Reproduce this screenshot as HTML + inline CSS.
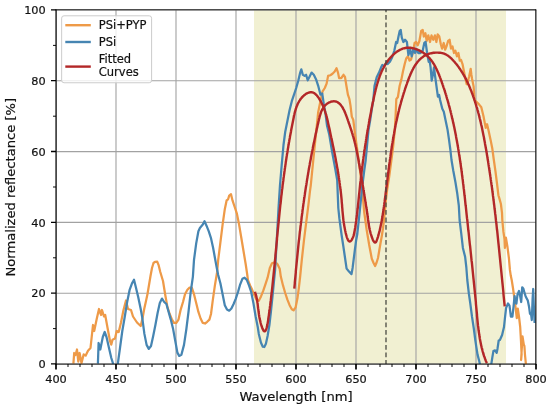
<!DOCTYPE html>
<html lang="en"><head><meta charset="utf-8"><title>Normalized reflectance</title>
<style>html,body{margin:0;padding:0;background:#fff}body{width:550px;height:409px;overflow:hidden}</style>
</head><body>
<svg width="550" height="409" viewBox="0 0 550 409" style="display:block;filter:blur(0.35px)">
<rect width="550" height="409" fill="#fff"/>
<defs><clipPath id="ax"><rect x="56.0" y="10.0" width="480.0" height="354.0"/></clipPath></defs>
<rect x="254.0" y="10.0" width="252.0" height="354.0" fill="#f1f0d2"/>
<path d="M56.0,10.0 V364.0 M116.0,10.0 V364.0 M176.0,10.0 V364.0 M236.0,10.0 V364.0 M296.0,10.0 V364.0 M356.0,10.0 V364.0 M416.0,10.0 V364.0 M476.0,10.0 V364.0 M536.0,10.0 V364.0 M56.0,364.0 H536.0 M56.0,293.2 H536.0 M56.0,222.4 H536.0 M56.0,151.6 H536.0 M56.0,80.8 H536.0 M56.0,10.0 H536.0" stroke="#a2a2a2" stroke-width="1.1" fill="none"/>
<g clip-path="url(#ax)" fill="none" stroke-linejoin="round" stroke-linecap="butt">
<path d="M73.4,363.6 L74.2,353.0 L75.5,355.0 L77.0,349.5 L78.3,361.7 L79.6,353.0 L81.5,363.0 L83.7,354.4 L85.7,355.6 L88.0,350.7 L90.5,348.0 L91.8,336.0 L93.0,325.0 L94.2,331.0 L96.7,319.0 L99.0,309.0 L101.0,315.0 L102.0,310.0 L104.0,316.5 L105.2,315.0 L107.7,328.7 L110.0,341.0 L111.3,344.6 L112.5,339.7 L115.0,338.5 L116.7,331.0 L118.7,332.0 L121.0,322.5 L123.5,310.0 L126.0,300.5 L128.0,309.0 L131.0,310.0 L133.0,316.5 L137.0,322.5 L140.7,326.0 L142.6,318.0 L144.2,309.0 L146.0,301.0 L147.5,294.0 L149.0,285.0 L150.5,276.0 L152.0,268.0 L153.5,263.0 L155.0,261.8 L157.2,261.6 L158.7,265.4 L160.3,272.0 L163.0,281.0 L165.3,295.3 L167.5,307.4 L169.7,314.0 L172.0,319.6 L174.0,322.9 L176.3,322.9 L178.5,319.6 L180.7,309.6 L183.0,302.0 L185.0,294.2 L187.4,289.8 L189.6,287.6 L191.8,287.6 L194.0,294.2 L196.2,303.0 L198.4,311.9 L200.6,318.5 L202.8,322.9 L205.0,323.5 L207.2,321.8 L209.4,319.6 L211.0,314.0 L212.7,300.8 L214.9,285.4 L217.1,272.2 L218.2,259.9 L220.4,242.3 L222.6,224.6 L224.8,209.2 L226.6,200.4 L228.1,199.3 L229.2,195.6 L231.0,194.2 L232.5,200.4 L234.7,207.0 L236.9,213.6 L239.1,224.6 L241.3,237.8 L243.5,251.0 L245.7,264.3 L247.3,275.0 L247.9,279.9 L250.1,285.4 L252.2,289.8 L254.4,295.3 L256.6,299.7 L258.8,300.8 L261.0,296.4 L263.2,290.9 L265.4,284.3 L267.6,277.7 L269.8,268.0 L272.0,263.2 L275.3,262.0 L277.5,264.3 L279.7,268.7 L280.8,276.6 L283.0,285.4 L285.2,293.0 L287.4,299.7 L289.6,305.2 L291.8,309.2 L293.6,310.3 L295.6,307.4 L297.4,298.6 L298.9,287.6 L300.2,276.0 L301.8,259.9 L304.0,240.0 L306.2,222.4 L308.4,204.8 L309.9,191.6 L310.8,185.0 L314.5,148.0 L318.2,112.2 L320.4,101.2 L322.6,91.3 L324.8,88.0 L326.6,83.6 L328.1,75.9 L330.3,75.2 L332.5,73.7 L334.7,71.5 L336.5,68.2 L338.0,72.6 L339.1,78.0 L341.3,78.0 L343.5,74.8 L345.0,77.0 L346.4,85.8 L347.9,94.6 L349.4,99.0 L350.5,105.6 L351.8,116.6 L353.3,120.0 L355.1,134.7 L357.2,149.4 L359.1,164.0 L360.8,175.8 L362.4,192.0 L364.2,212.0 L366.7,230.0 L369.2,245.0 L371.8,258.7 L373.7,263.3 L375.1,266.0 L376.6,262.5 L378.0,258.0 L379.1,251.5 L380.4,243.8 L381.8,236.0 L382.9,229.0 L384.0,220.0 L385.0,210.0 L385.9,200.0 L387.0,190.8 L389.2,176.5 L391.4,160.0 L393.2,146.0 L394.7,131.0 L395.6,116.0 L396.3,99.2 L397.9,97.0 L399.6,86.0 L401.4,79.4 L402.9,71.7 L404.7,64.0 L406.2,58.5 L408.0,56.3 L409.5,60.7 L411.0,59.6 L412.8,53.0 L414.6,43.0 L416.1,42.0 L417.7,45.3 L419.4,41.0 L421.2,31.0 L422.7,29.9 L423.8,36.5 L425.4,33.2 L426.7,41.0 L428.3,35.4 L430.0,42.0 L431.5,35.4 L433.3,39.8 L434.9,35.4 L436.4,42.0 L437.7,34.3 L439.3,36.5 L440.8,44.2 L442.1,48.6 L443.7,43.0 L445.2,49.7 L446.5,46.4 L448.1,41.0 L449.6,39.8 L451.0,48.6 L452.5,46.4 L454.0,53.0 L455.4,50.8 L456.9,56.3 L458.4,53.0 L459.8,60.7 L461.1,60.0 L462.6,64.4 L464.0,71.7 L465.5,79.0 L466.7,84.2 L467.7,82.0 L469.2,76.2 L470.7,68.8 L471.4,74.7 L472.1,79.0 L473.6,86.4 L474.6,100.0 L479.0,104.4 L481.3,107.3 L483.5,116.2 L485.7,127.9 L487.1,124.2 L488.6,130.8 L490.8,141.1 L492.3,148.5 L493.7,159.0 L495.5,171.7 L497.0,183.5 L498.4,195.2 L499.5,198.9 L500.9,204.0 L502.0,212.9 L502.3,220.0 L503.4,231.7 L504.5,239.1 L504.9,247.9 L505.9,237.6 L507.4,246.4 L508.9,258.2 L509.9,269.9 L510.8,275.8 L511.7,280.0 L513.1,288.8 L514.3,297.6 L515.8,309.4 L516.8,318.2 L517.8,308.6 L519.0,316.7 L520.2,327.0 L521.0,341.3 L521.6,354.4 L521.1,360.0 L522.0,345.0 L522.5,336.4 L523.8,344.6 L524.4,346.0 L525.0,355.0 L525.9,364.0" stroke="#ee9a48" stroke-width="2.25"/>
<path d="M97.9,363.6 L98.6,343.0 L100.3,349.5 L102.8,337.0 L104.7,332.0 L106.5,337.0 L109.0,348.0 L111.3,358.0 L113.8,366.0 L117.5,366.0 L120.0,348.0 L122.3,331.0 L124.8,316.5 L127.2,301.8 L129.7,289.6 L132.0,283.4 L134.0,279.8 L135.8,287.0 L138.2,297.0 L140.7,309.0 L142.2,317.4 L144.4,333.9 L146.6,344.9 L148.8,348.9 L151.0,346.0 L153.2,336.0 L155.4,325.0 L157.6,313.0 L159.8,303.0 L162.0,298.6 L164.2,302.0 L166.4,304.0 L168.6,311.9 L170.8,319.6 L173.0,328.4 L175.2,340.5 L177.4,352.6 L179.2,355.9 L181.4,354.8 L184.0,344.9 L186.3,329.5 L188.5,311.9 L190.7,292.0 L192.9,276.6 L194.0,259.9 L196.2,243.4 L198.4,231.2 L199.9,228.0 L202.8,224.6 L204.5,221.3 L206.5,225.7 L208.7,231.2 L210.9,237.8 L213.1,247.8 L214.9,257.7 L216.7,267.6 L218.2,275.0 L220.4,283.2 L222.6,294.2 L224.8,305.2 L227.0,309.6 L229.2,310.7 L231.4,308.5 L233.6,304.0 L235.8,298.6 L238.0,292.0 L240.2,284.3 L242.4,278.8 L244.6,277.7 L246.8,279.9 L249.0,285.4 L251.2,292.0 L253.4,303.0 L255.6,316.3 L257.8,327.3 L258.8,333.9 L261.0,342.7 L262.8,346.7 L264.3,347.0 L265.9,343.8 L267.6,336.0 L269.4,325.0 L270.9,311.9 L272.5,296.4 L274.2,278.8 L275.1,270.0 L278.6,207.0 L280.0,185.0 L281.7,165.0 L283.5,145.0 L285.2,132.0 L287.4,121.0 L289.6,110.0 L291.8,101.2 L294.0,94.6 L296.2,88.0 L298.4,80.3 L300.2,72.6 L301.3,69.3 L302.8,74.8 L304.6,75.9 L306.1,74.8 L307.7,80.3 L309.4,77.0 L311.6,72.6 L313.8,74.8 L316.0,79.2 L318.2,85.8 L320.4,94.6 L322.2,93.5 L323.7,103.4 L325.3,112.2 L327.0,125.4 L329.3,134.7 L332.2,152.3 L335.2,168.5 L337.2,180.0 L338.3,208.0 L339.4,218.7 L341.6,235.0 L343.3,246.0 L344.9,257.0 L346.6,268.6 L349.0,271.5 L351.5,274.1 L352.6,268.0 L353.7,259.2 L354.8,250.4 L356.1,240.5 L357.3,234.0 L359.2,216.5 L360.6,203.0 L362.4,185.0 L364.3,170.0 L365.7,160.0 L367.0,146.0 L368.5,130.0 L370.2,120.0 L371.5,111.0 L373.3,100.0 L374.5,86.0 L376.7,77.2 L378.9,72.8 L381.1,67.3 L382.3,65.0 L384.3,66.2 L386.6,61.8 L387.7,64.0 L389.9,61.8 L392.1,57.4 L394.3,50.8 L396.1,42.0 L397.2,43.0 L398.5,36.5 L399.7,31.0 L400.7,29.9 L401.8,37.6 L403.4,42.0 L405.1,39.8 L406.9,42.0 L408.4,55.2 L410.2,49.7 L411.7,56.3 L413.5,48.6 L415.0,53.0 L416.8,49.7 L418.3,53.0 L420.5,53.0 L422.7,50.8 L424.3,43.0 L425.6,42.0 L427.1,53.0 L428.7,61.8 L429.5,60.0 L430.6,67.3 L431.7,80.6 L432.9,74.7 L434.0,67.3 L434.7,73.2 L435.9,82.0 L436.9,89.4 L437.9,96.7 L439.1,95.0 L440.1,100.0 L442.3,108.8 L443.8,111.7 L445.3,119.0 L447.5,129.4 L449.0,139.6 L450.4,150.0 L451.5,160.0 L453.2,170.3 L455.4,182.0 L457.3,193.8 L458.8,205.5 L459.6,220.0 L461.2,233.2 L462.9,247.9 L465.1,256.7 L466.3,267.0 L467.3,280.0 L468.8,293.2 L470.3,303.5 L472.0,316.7 L473.8,328.5 L475.3,340.0 L476.2,346.2 L477.5,354.4 L479.2,361.0 L480.3,366.0 L485.0,370.0 L491.0,366.0 L492.3,357.7 L493.4,351.1 L495.1,350.3 L496.7,352.8 L497.5,348.7 L498.7,340.5 L499.9,340.0 L502.1,335.0 L504.0,327.0 L505.1,316.7 L506.1,307.9 L508.0,303.5 L509.5,305.7 L510.9,316.7 L512.4,316.7 L513.4,307.9 L514.6,296.2 L515.3,302.0 L516.4,303.5 L517.5,294.7 L519.0,291.0 L520.2,296.2 L521.2,302.0 L522.2,287.3 L523.4,288.8 L524.6,293.2 L525.6,296.2 L526.7,298.4 L527.8,300.6 L529.0,306.4 L530.0,313.8 L531.2,315.0 L531.8,320.0 L532.6,299.0 L533.2,289.0 L533.8,305.0 L534.6,323.0" stroke="#4685b2" stroke-width="2.25"/>
<path d="M255.0,291.7 L255.3,292.8 L255.6,293.8 L255.9,294.8 L256.2,295.8 L256.4,296.8 L256.6,297.7 L256.8,298.7 L257.0,299.7 L257.1,300.6 L257.3,301.6 L257.4,302.5 L257.6,303.5 L257.7,304.4 L257.8,305.4 L257.9,306.3 L258.0,307.3 L258.1,308.2 L258.3,309.2 L258.4,310.2 L258.5,311.2 L258.6,312.1 L258.8,313.1 L258.9,314.2 L259.1,315.2 L259.2,316.2 L259.4,317.3 L259.6,318.4 L259.9,319.5 L260.1,320.6 L260.4,321.7 L260.6,322.8 L260.9,323.9 L261.2,324.9 L261.6,326.0 L261.9,326.9 L262.2,327.8 L262.5,328.7 L262.9,329.4 L263.2,330.0 L263.5,330.6 L263.9,331.0 L264.2,331.2 L264.5,331.4 L264.8,331.3 L265.1,331.2 L265.4,330.9 L265.7,330.4 L265.9,329.9 L266.2,329.2 L266.4,328.5 L266.7,327.6 L266.9,326.7 L267.1,325.7 L267.4,324.6 L267.6,323.5 L267.8,322.4 L268.0,321.2 L268.2,320.0 L268.3,318.8 L268.5,317.5 L268.7,316.3 L268.9,315.1 L269.0,313.9 L269.2,312.8 L269.3,311.6 L269.5,310.5 L269.6,309.5 L269.8,308.4 L269.9,307.4 L270.0,306.4 L270.2,305.4 L270.3,304.4 L270.4,303.4 L270.5,302.4 L270.6,301.5 L270.8,300.5 L270.9,299.6 L271.0,298.6 L271.1,297.6 L271.2,296.7 L271.3,295.7 L271.4,294.8 L271.5,293.8 L271.7,292.8 L271.8,291.9 L271.9,290.9 L272.0,289.9 L272.1,289.0 L272.2,288.0 L272.3,287.0 L272.4,286.1 L272.5,285.1 L272.6,284.1 L272.7,283.1 L272.8,282.2 L272.9,281.2 L273.0,280.2 L273.1,279.2 L273.2,278.2 L273.3,277.3 L273.4,276.3 L273.5,275.3 L273.6,274.3 L273.7,273.3 L273.8,272.3 L273.9,271.4 L274.0,270.4 L274.1,269.4 L274.2,268.4 L274.3,267.4 L274.4,266.4 L274.5,265.4 L274.6,264.4 L274.7,263.4 L274.8,262.4 L274.9,261.4 L275.0,260.4 L275.1,259.4 L275.2,258.4 L275.3,257.5 L275.4,256.5 L275.4,255.5 L275.5,254.5 L275.6,253.5 L275.7,252.5 L275.8,251.5 L275.9,250.5 L276.0,249.5 L276.1,248.5 L276.2,247.5 L276.3,246.5 L276.4,245.4 L276.5,244.4 L276.6,243.4 L276.7,242.4 L276.8,241.4 L276.9,240.4 L277.0,239.4 L277.0,238.4 L277.1,237.4 L277.2,236.4 L277.3,235.4 L277.4,234.4 L277.5,233.4 L277.6,232.4 L277.7,231.4 L277.8,230.4 L277.9,229.4 L278.0,228.4 L278.1,227.4 L278.2,226.4 L278.3,225.4 L278.4,224.4 L278.5,223.4 L278.6,222.4 L278.7,221.4 L278.8,220.4 L278.9,219.4 L279.0,218.4 L279.1,217.4 L279.2,216.4 L279.3,215.4 L279.4,214.4 L279.5,213.4 L279.6,212.4 L279.7,211.4 L279.8,210.4 L279.9,209.4 L280.0,208.4 L280.1,207.4 L280.2,206.4 L280.3,205.4 L280.4,204.4 L280.6,203.4 L280.7,202.4 L280.8,201.4 L280.9,200.4 L281.0,199.4 L281.1,198.4 L281.2,197.4 L281.3,196.4 L281.4,195.4 L281.6,194.5 L281.7,193.5 L281.8,192.5 L281.9,191.5 L282.0,190.5 L282.1,189.5 L282.3,188.5 L282.4,187.6 L282.5,186.6 L282.6,185.6 L282.7,184.6 L282.9,183.6 L283.0,182.6 L283.1,181.7 L283.3,180.7 L283.4,179.7 L283.5,178.7 L283.6,177.7 L283.8,176.7 L283.9,175.8 L284.0,174.8 L284.2,173.8 L284.3,172.8 L284.4,171.8 L284.6,170.9 L284.7,169.9 L284.8,168.9 L285.0,167.9 L285.1,166.9 L285.3,166.0 L285.4,165.0 L285.6,164.0 L285.7,163.0 L285.8,162.0 L286.0,161.1 L286.1,160.1 L286.3,159.1 L286.4,158.1 L286.6,157.1 L286.7,156.1 L286.9,155.2 L287.0,154.2 L287.2,153.2 L287.4,152.2 L287.5,151.2 L287.7,150.2 L287.8,149.3 L288.0,148.3 L288.2,147.3 L288.3,146.3 L288.5,145.3 L288.7,144.3 L288.8,143.3 L289.0,142.3 L289.2,141.4 L289.3,140.4 L289.5,139.4 L289.7,138.4 L289.9,137.4 L290.0,136.4 L290.2,135.4 L290.4,134.4 L290.6,133.4 L290.8,132.4 L291.0,131.4 L291.1,130.4 L291.3,129.4 L291.5,128.4 L291.7,127.4 L291.9,126.4 L292.1,125.4 L292.3,124.4 L292.5,123.4 L292.7,122.4 L292.9,121.4 L293.1,120.4 L293.3,119.4 L293.5,118.4 L293.7,117.4 L293.9,116.3 L294.1,115.3 L294.4,114.3 L294.6,113.3 L294.8,112.4 L295.1,111.4 L295.4,110.4 L295.7,109.4 L296.0,108.5 L296.3,107.5 L296.6,106.6 L297.0,105.7 L297.4,104.7 L297.8,103.8 L298.2,103.0 L298.7,102.1 L299.1,101.3 L299.7,100.4 L300.2,99.6 L300.8,98.9 L301.4,98.1 L302.0,97.4 L302.7,96.6 L303.4,96.0 L304.1,95.3 L304.9,94.7 L305.7,94.1 L306.5,93.6 L307.4,93.2 L308.2,92.8 L309.0,92.5 L309.9,92.3 L310.7,92.2 L311.6,92.3 L312.4,92.4 L313.2,92.7 L314.0,93.0 L314.7,93.5 L315.5,94.1 L316.2,94.8 L316.9,95.5 L317.6,96.4 L318.2,97.2 L318.8,98.1 L319.4,99.1 L320.0,100.1 L320.6,101.0 L321.1,102.0 L321.6,103.0 L322.1,104.0 L322.5,104.9 L323.0,105.9 L323.4,106.9 L323.8,107.8 L324.1,108.8 L324.5,109.7 L324.8,110.7 L325.1,111.6 L325.4,112.6 L325.7,113.5 L326.0,114.5 L326.3,115.4 L326.5,116.4 L326.8,117.3 L327.0,118.2 L327.2,119.2 L327.5,120.1 L327.7,121.1 L327.9,122.0 L328.1,122.9 L328.3,123.9 L328.5,124.8 L328.7,125.8 L328.9,126.7 L329.2,127.7 L329.4,128.6 L329.6,129.6 L329.8,130.6 L330.0,131.5 L330.2,132.5 L330.4,133.5 L330.6,134.4 L330.8,135.4 L331.0,136.4 L331.2,137.3 L331.5,138.3 L331.7,139.3 L331.9,140.3 L332.1,141.2 L332.3,142.2 L332.5,143.2 L332.7,144.2 L332.9,145.2 L333.1,146.2 L333.3,147.1 L333.5,148.1 L333.7,149.1 L333.9,150.1 L334.1,151.1 L334.3,152.1 L334.5,153.1 L334.7,154.1 L334.9,155.1 L335.1,156.0 L335.3,157.0 L335.5,158.0 L335.7,159.0 L335.8,160.0 L336.0,161.0 L336.2,162.0 L336.4,163.0 L336.6,164.0 L336.8,165.0 L336.9,166.0 L337.1,167.0 L337.3,168.0 L337.5,169.0 L337.6,170.0 L337.8,171.0 L338.0,172.0 L338.1,173.0 L338.3,174.0 L338.4,175.0 L338.6,176.0 L338.8,177.0 L338.9,177.9 L339.1,178.9 L339.2,179.9 L339.4,180.9 L339.5,181.9 L339.6,182.9 L339.8,183.9 L339.9,184.9 L340.0,185.9 L340.2,186.9 L340.3,187.8 L340.4,188.8 L340.5,189.8 L340.7,190.8 L340.8,191.8 L340.9,192.8 L341.0,193.7 L341.1,194.7 L341.2,195.7 L341.3,196.7 L341.4,197.6 L341.5,198.6 L341.6,199.6 L341.7,200.6 L341.7,201.5 L341.8,202.5 L341.9,203.5 L342.0,204.4 L342.1,205.4 L342.1,206.3 L342.2,207.3 L342.3,208.3 L342.4,209.3 L342.4,210.2 L342.5,211.2 L342.6,212.2 L342.7,213.2 L342.8,214.1 L342.9,215.1 L343.0,216.1 L343.1,217.1 L343.2,218.1 L343.3,219.1 L343.4,220.2 L343.6,221.2 L343.7,222.2 L343.9,223.2 L344.0,224.3 L344.2,225.4 L344.4,226.4 L344.6,227.5 L344.8,228.6 L345.0,229.7 L345.2,230.8 L345.5,231.9 L345.7,233.0 L346.0,234.1 L346.3,235.2 L346.6,236.3 L346.9,237.3 L347.2,238.2 L347.6,239.1 L347.9,239.8 L348.3,240.5 L348.7,241.0 L349.1,241.3 L349.5,241.5 L349.9,241.5 L350.4,241.3 L350.8,241.0 L351.3,240.5 L351.7,239.9 L352.1,239.2 L352.5,238.3 L352.9,237.5 L353.3,236.5 L353.6,235.6 L353.9,234.6 L354.1,233.5 L354.3,232.5 L354.5,231.4 L354.7,230.4 L354.9,229.3 L355.1,228.2 L355.3,227.2 L355.4,226.1 L355.6,225.1 L355.7,224.0 L355.9,223.0 L356.0,221.9 L356.2,220.9 L356.3,219.8 L356.5,218.8 L356.6,217.8 L356.7,216.8 L356.8,215.7 L357.0,214.7 L357.1,213.7 L357.2,212.7 L357.3,211.7 L357.4,210.7 L357.5,209.6 L357.7,208.6 L357.8,207.6 L357.9,206.6 L358.0,205.6 L358.1,204.6 L358.2,203.6 L358.3,202.7 L358.4,201.7 L358.5,200.7 L358.6,199.7 L358.7,198.7 L358.8,197.7 L358.9,196.7 L359.0,195.7 L359.1,194.7 L359.2,193.7 L359.3,192.8 L359.4,191.8 L359.5,190.8 L359.6,189.8 L359.7,188.8 L359.8,187.8 L359.9,186.9 L360.0,185.9 L360.1,184.9 L360.2,183.9 L360.3,182.9 L360.4,181.9 L360.6,180.9 L360.7,180.0 L360.8,179.0 L360.9,178.0 L361.0,177.0 L361.1,176.0 L361.2,175.1 L361.4,174.1 L361.5,173.1 L361.6,172.1 L361.7,171.1 L361.8,170.1 L362.0,169.2 L362.1,168.2 L362.2,167.2 L362.3,166.2 L362.5,165.2 L362.6,164.3 L362.7,163.3 L362.8,162.3 L363.0,161.3 L363.1,160.3 L363.2,159.3 L363.4,158.4 L363.5,157.4 L363.6,156.4 L363.8,155.4 L363.9,154.4 L364.1,153.5 L364.2,152.5 L364.3,151.5 L364.5,150.5 L364.6,149.5 L364.8,148.5 L364.9,147.6 L365.1,146.6 L365.2,145.6 L365.4,144.6 L365.5,143.6 L365.7,142.7 L365.8,141.7 L366.0,140.7 L366.1,139.7 L366.3,138.7 L366.4,137.7 L366.6,136.8 L366.7,135.8 L366.9,134.8 L367.1,133.8 L367.2,132.8 L367.4,131.8 L367.6,130.8 L367.7,129.9 L367.9,128.9 L368.1,127.9 L368.2,126.9 L368.4,125.9 L368.6,124.9 L368.8,123.9 L368.9,122.9 L369.1,122.0 L369.3,121.0 L369.5,120.0 L369.6,119.0 L369.8,118.0 L370.0,117.0 L370.2,116.0 L370.4,115.0 L370.6,114.0 L370.8,113.0 L371.0,112.1 L371.1,111.1 L371.3,110.1 L371.5,109.1 L371.7,108.1 L371.9,107.1 L372.1,106.1 L372.3,105.1 L372.5,104.1 L372.7,103.1 L372.9,102.1 L373.2,101.1 L373.4,100.1 L373.6,99.1 L373.8,98.1 L374.0,97.1 L374.2,96.1 L374.4,95.1 L374.7,94.1 L374.9,93.1 L375.1,92.1 L375.4,91.1 L375.6,90.1 L375.8,89.1 L376.1,88.1 L376.3,87.2 L376.6,86.2 L376.9,85.2 L377.1,84.2 L377.4,83.3 L377.7,82.3 L378.0,81.3 L378.3,80.4 L378.6,79.4 L378.9,78.5 L379.3,77.5 L379.6,76.6 L379.9,75.7 L380.3,74.7 L380.7,73.8 L381.1,72.9 L381.4,72.0 L381.8,71.1 L382.3,70.2 L382.7,69.3 L383.1,68.5 L383.6,67.6 L384.0,66.8 L384.5,65.9 L385.0,65.1 L385.5,64.2 L386.0,63.4 L386.5,62.6 L387.1,61.8 L387.7,61.1 L388.2,60.3 L388.8,59.5 L389.4,58.8 L390.1,58.0 L390.7,57.3 L391.4,56.6 L392.1,55.9 L392.8,55.2 L393.5,54.5 L394.2,53.9 L395.0,53.2 L395.7,52.6 L396.5,52.0 L397.3,51.4 L398.2,50.9 L399.0,50.4 L399.9,49.9 L400.8,49.5 L401.7,49.1 L402.6,48.7 L403.5,48.4 L404.5,48.2 L405.4,48.0 L406.4,47.8 L407.4,47.7 L408.4,47.7 L409.5,47.8 L410.5,47.8 L411.5,48.0 L412.6,48.2 L413.6,48.4 L414.6,48.7 L415.6,49.0 L416.7,49.3 L417.6,49.7 L418.6,50.1 L419.6,50.6 L420.5,51.1 L421.4,51.6 L422.3,52.1 L423.1,52.6 L423.9,53.2 L424.7,53.8 L425.5,54.4 L426.3,55.0 L427.0,55.6 L427.7,56.3 L428.4,57.0 L429.0,57.7 L429.7,58.4 L430.3,59.1 L430.9,59.9 L431.5,60.6 L432.1,61.4 L432.6,62.2 L433.1,63.0 L433.7,63.8 L434.2,64.7 L434.7,65.5 L435.1,66.4 L435.6,67.2 L436.0,68.1 L436.5,69.0 L436.9,69.9 L437.3,70.8 L437.7,71.7 L438.1,72.6 L438.5,73.5 L438.9,74.4 L439.2,75.3 L439.6,76.3 L440.0,77.2 L440.3,78.1 L440.7,79.1 L441.0,80.0 L441.4,81.0 L441.7,81.9 L442.0,82.9 L442.4,83.8 L442.7,84.8 L443.0,85.7 L443.3,86.7 L443.6,87.6 L444.0,88.6 L444.3,89.5 L444.6,90.5 L444.9,91.4 L445.2,92.4 L445.5,93.3 L445.8,94.3 L446.1,95.2 L446.4,96.2 L446.6,97.1 L446.9,98.1 L447.2,99.1 L447.5,100.0 L447.8,101.0 L448.0,101.9 L448.3,102.9 L448.6,103.9 L448.8,104.8 L449.1,105.8 L449.3,106.7 L449.6,107.7 L449.9,108.7 L450.1,109.6 L450.4,110.6 L450.6,111.6 L450.8,112.5 L451.1,113.5 L451.3,114.5 L451.6,115.5 L451.8,116.4 L452.0,117.4 L452.2,118.4 L452.5,119.3 L452.7,120.3 L452.9,121.3 L453.1,122.3 L453.3,123.2 L453.6,124.2 L453.8,125.2 L454.0,126.2 L454.2,127.1 L454.4,128.1 L454.6,129.1 L454.8,130.1 L455.0,131.0 L455.2,132.0 L455.4,133.0 L455.6,134.0 L455.8,135.0 L456.0,135.9 L456.1,136.9 L456.3,137.9 L456.5,138.9 L456.7,139.9 L456.9,140.9 L457.0,141.8 L457.2,142.8 L457.4,143.8 L457.6,144.8 L457.7,145.8 L457.9,146.8 L458.1,147.7 L458.2,148.7 L458.4,149.7 L458.6,150.7 L458.7,151.7 L458.9,152.7 L459.0,153.7 L459.2,154.7 L459.3,155.6 L459.5,156.6 L459.7,157.6 L459.8,158.6 L459.9,159.6 L460.1,160.6 L460.2,161.6 L460.4,162.6 L460.5,163.6 L460.7,164.5 L460.8,165.5 L460.9,166.5 L461.1,167.5 L461.2,168.5 L461.4,169.5 L461.5,170.5 L461.6,171.5 L461.8,172.5 L461.9,173.5 L462.0,174.5 L462.1,175.5 L462.3,176.5 L462.4,177.4 L462.5,178.4 L462.7,179.4 L462.8,180.4 L462.9,181.4 L463.0,182.4 L463.1,183.4 L463.3,184.4 L463.4,185.4 L463.5,186.4 L463.6,187.4 L463.7,188.4 L463.9,189.4 L464.0,190.4 L464.1,191.4 L464.2,192.4 L464.3,193.4 L464.4,194.4 L464.5,195.3 L464.7,196.3 L464.8,197.3 L464.9,198.3 L465.0,199.3 L465.1,200.3 L465.2,201.3 L465.3,202.3 L465.4,203.3 L465.5,204.3 L465.6,205.3 L465.8,206.3 L465.9,207.3 L466.0,208.3 L466.1,209.3 L466.2,210.3 L466.3,211.3 L466.4,212.3 L466.5,213.3 L466.6,214.3 L466.7,215.2 L466.8,216.2 L466.9,217.2 L467.0,218.2 L467.2,219.2 L467.3,220.2 L467.4,221.2 L467.5,222.2 L467.6,223.2 L467.7,224.2 L467.8,225.2 L467.9,226.2 L468.0,227.2 L468.1,228.2 L468.2,229.2 L468.3,230.1 L468.4,231.1 L468.6,232.1 L468.7,233.1 L468.8,234.1 L468.9,235.1 L469.0,236.1 L469.1,237.1 L469.2,238.1 L469.3,239.1 L469.4,240.1 L469.5,241.1 L469.6,242.0 L469.7,243.0 L469.8,244.0 L469.9,245.0 L470.1,246.0 L470.2,247.0 L470.3,248.0 L470.4,249.0 L470.5,250.0 L470.6,251.0 L470.7,252.0 L470.8,253.0 L470.9,253.9 L471.0,254.9 L471.1,255.9 L471.2,256.9 L471.3,257.9 L471.4,258.9 L471.5,259.9 L471.6,260.9 L471.8,261.9 L471.9,262.9 L472.0,263.9 L472.1,264.9 L472.2,265.8 L472.3,266.8 L472.4,267.8 L472.5,268.8 L472.6,269.8 L472.7,270.8 L472.8,271.8 L472.9,272.8 L473.0,273.8 L473.1,274.8 L473.2,275.8 L473.3,276.8 L473.4,277.8 L473.5,278.8 L473.6,279.7 L473.7,280.7 L473.8,281.7 L473.9,282.7 L474.0,283.7 L474.1,284.7 L474.2,285.7 L474.3,286.7 L474.4,287.7 L474.5,288.7 L474.6,289.7 L474.7,290.7 L474.8,291.7 L474.9,292.7 L475.0,293.7 L475.1,294.7 L475.2,295.7 L475.3,296.7 L475.4,297.7 L475.5,298.7 L475.6,299.7 L475.7,300.7 L475.8,301.7 L475.9,302.7 L475.9,303.7 L476.0,304.7 L476.1,305.7 L476.2,306.7 L476.3,307.7 L476.4,308.7 L476.5,309.7 L476.6,310.7 L476.7,311.7 L476.8,312.7 L476.9,313.7 L477.0,314.7 L477.0,315.7 L477.1,316.7 L477.2,317.7 L477.3,318.7 L477.4,319.7 L477.5,320.7 L477.6,321.7 L477.7,322.7 L477.8,323.7 L477.9,324.7 L478.0,325.7 L478.2,326.7 L478.3,327.7 L478.4,328.7 L478.5,329.7 L478.6,330.6 L478.8,331.6 L478.9,332.6 L479.1,333.6 L479.2,334.6 L479.4,335.6 L479.5,336.6 L479.7,337.6 L479.8,338.5 L480.0,339.5 L480.2,340.5 L480.4,341.5 L480.6,342.5 L480.8,343.4 L481.0,344.4 L481.2,345.4 L481.4,346.3 L481.6,347.3 L481.9,348.3 L482.1,349.2 L482.4,350.2 L482.6,351.1 L482.9,352.1 L483.2,353.0 L483.4,354.0 L483.7,354.9 L484.0,355.9 L484.4,356.8 L484.7,357.7 L485.0,358.7 L485.4,359.6 L485.7,360.5 L486.1,361.4 L486.5,362.4 L486.9,363.3" stroke="#b32728" stroke-width="2.4"/>
<path d="M294.3,288.6 L294.4,287.6 L294.5,286.6 L294.6,285.6 L294.7,284.6 L294.8,283.5 L294.8,282.5 L294.9,281.5 L295.0,280.5 L295.1,279.5 L295.2,278.5 L295.3,277.5 L295.4,276.5 L295.5,275.4 L295.6,274.4 L295.7,273.4 L295.8,272.4 L295.8,271.4 L295.9,270.4 L296.0,269.4 L296.1,268.4 L296.2,267.4 L296.3,266.4 L296.4,265.4 L296.5,264.4 L296.6,263.4 L296.7,262.4 L296.8,261.4 L296.9,260.4 L297.0,259.4 L297.1,258.4 L297.2,257.4 L297.3,256.4 L297.4,255.4 L297.5,254.4 L297.6,253.4 L297.7,252.4 L297.8,251.4 L297.9,250.4 L298.0,249.4 L298.1,248.4 L298.2,247.4 L298.3,246.4 L298.4,245.4 L298.5,244.4 L298.6,243.4 L298.7,242.5 L298.8,241.5 L298.9,240.5 L299.1,239.5 L299.2,238.5 L299.3,237.5 L299.4,236.5 L299.5,235.5 L299.6,234.5 L299.7,233.6 L299.8,232.6 L299.9,231.6 L300.1,230.6 L300.2,229.6 L300.3,228.6 L300.4,227.6 L300.5,226.6 L300.6,225.7 L300.8,224.7 L300.9,223.7 L301.0,222.7 L301.1,221.7 L301.3,220.7 L301.4,219.8 L301.5,218.8 L301.6,217.8 L301.7,216.8 L301.9,215.8 L302.0,214.8 L302.1,213.9 L302.3,212.9 L302.4,211.9 L302.5,210.9 L302.6,209.9 L302.8,208.9 L302.9,208.0 L303.0,207.0 L303.2,206.0 L303.3,205.0 L303.4,204.0 L303.6,203.0 L303.7,202.1 L303.9,201.1 L304.0,200.1 L304.1,199.1 L304.3,198.1 L304.4,197.2 L304.6,196.2 L304.7,195.2 L304.9,194.2 L305.0,193.2 L305.1,192.2 L305.3,191.3 L305.4,190.3 L305.6,189.3 L305.7,188.3 L305.9,187.3 L306.0,186.4 L306.2,185.4 L306.4,184.4 L306.5,183.4 L306.7,182.4 L306.8,181.4 L307.0,180.5 L307.1,179.5 L307.3,178.5 L307.5,177.5 L307.6,176.5 L307.8,175.5 L308.0,174.6 L308.1,173.6 L308.3,172.6 L308.5,171.6 L308.6,170.6 L308.8,169.6 L309.0,168.6 L309.1,167.7 L309.3,166.7 L309.5,165.7 L309.7,164.7 L309.8,163.7 L310.0,162.7 L310.2,161.7 L310.4,160.8 L310.6,159.8 L310.8,158.8 L310.9,157.8 L311.1,156.8 L311.3,155.8 L311.5,154.8 L311.7,153.8 L311.9,152.8 L312.1,151.8 L312.3,150.9 L312.5,149.9 L312.7,148.9 L312.8,147.9 L313.0,146.9 L313.2,145.9 L313.4,144.9 L313.6,143.9 L313.9,142.9 L314.1,141.9 L314.3,140.9 L314.5,139.9 L314.7,138.9 L314.9,137.9 L315.1,136.9 L315.3,135.9 L315.5,134.9 L315.7,133.9 L316.0,132.9 L316.2,131.9 L316.4,130.9 L316.6,129.9 L316.8,128.9 L317.1,127.9 L317.3,126.9 L317.5,125.9 L317.7,124.9 L318.0,123.9 L318.2,122.9 L318.4,121.9 L318.7,120.8 L318.9,119.8 L319.1,118.8 L319.4,117.8 L319.6,116.8 L319.9,115.8 L320.2,114.9 L320.5,113.9 L320.8,113.0 L321.1,112.0 L321.5,111.1 L321.9,110.2 L322.3,109.4 L322.8,108.6 L323.3,107.8 L323.8,107.0 L324.3,106.3 L324.9,105.6 L325.6,104.9 L326.3,104.3 L327.0,103.7 L327.8,103.2 L328.6,102.7 L329.5,102.3 L330.3,102.0 L331.2,101.7 L332.1,101.5 L333.0,101.4 L333.9,101.3 L334.8,101.4 L335.6,101.5 L336.4,101.7 L337.2,102.0 L337.9,102.4 L338.6,102.9 L339.3,103.5 L340.0,104.1 L340.6,104.8 L341.2,105.6 L341.8,106.4 L342.4,107.2 L342.9,108.1 L343.4,109.1 L343.9,110.0 L344.4,111.0 L344.8,112.1 L345.3,113.1 L345.7,114.2 L346.1,115.2 L346.5,116.3 L346.9,117.4 L347.3,118.5 L347.7,119.5 L348.0,120.6 L348.4,121.6 L348.7,122.6 L349.0,123.6 L349.4,124.5 L349.7,125.5 L350.0,126.4 L350.3,127.3 L350.6,128.2 L350.9,129.1 L351.2,130.0 L351.5,130.9 L351.8,131.8 L352.0,132.6 L352.3,133.5 L352.6,134.4 L352.8,135.3 L353.1,136.2 L353.4,137.1 L353.6,138.0 L353.9,138.9 L354.1,139.8 L354.3,140.7 L354.6,141.7 L354.8,142.6 L355.1,143.6 L355.3,144.5 L355.5,145.5 L355.7,146.5 L356.0,147.5 L356.2,148.5 L356.4,149.5 L356.6,150.5 L356.8,151.5 L357.0,152.5 L357.2,153.5 L357.4,154.5 L357.6,155.5 L357.8,156.5 L358.0,157.5 L358.2,158.6 L358.4,159.6 L358.6,160.6 L358.8,161.6 L358.9,162.7 L359.1,163.7 L359.3,164.7 L359.5,165.7 L359.7,166.7 L359.8,167.7 L360.0,168.7 L360.2,169.7 L360.4,170.7 L360.5,171.7 L360.7,172.7 L360.9,173.7 L361.0,174.7 L361.2,175.7 L361.4,176.7 L361.5,177.6 L361.7,178.6 L361.8,179.6 L362.0,180.5 L362.2,181.5 L362.3,182.5 L362.5,183.4 L362.6,184.4 L362.8,185.3 L362.9,186.3 L363.1,187.3 L363.3,188.2 L363.4,189.2 L363.6,190.2 L363.7,191.1 L363.9,192.1 L364.0,193.1 L364.2,194.0 L364.3,195.0 L364.5,196.0 L364.7,197.0 L364.8,198.0 L365.0,199.0 L365.1,200.0 L365.3,201.0 L365.5,202.0 L365.6,203.0 L365.8,204.0 L365.9,205.0 L366.1,206.1 L366.3,207.1 L366.4,208.1 L366.6,209.1 L366.7,210.1 L366.9,211.1 L367.0,212.1 L367.2,213.1 L367.3,214.1 L367.5,215.1 L367.6,216.1 L367.7,217.1 L367.9,218.0 L368.0,219.0 L368.1,219.9 L368.3,220.9 L368.4,221.8 L368.5,222.7 L368.6,223.6 L368.8,224.5 L368.9,225.5 L369.1,226.4 L369.3,227.4 L369.4,228.3 L369.6,229.3 L369.9,230.4 L370.1,231.4 L370.4,232.5 L370.7,233.6 L371.1,234.8 L371.5,236.0 L371.9,237.3 L372.4,238.6 L372.8,239.7 L373.3,240.8 L373.9,241.6 L374.4,242.2 L374.9,242.5 L375.4,242.5 L375.8,242.3 L376.2,241.7 L376.5,241.0 L376.8,240.2 L377.1,239.3 L377.4,238.5 L377.7,237.6 L378.0,236.8 L378.2,235.9 L378.5,235.0 L378.7,234.1 L379.0,233.2 L379.2,232.3 L379.5,231.4 L379.7,230.5 L379.9,229.6 L380.1,228.6 L380.3,227.7 L380.5,226.7 L380.7,225.8 L380.9,224.8 L381.1,223.9 L381.3,222.9 L381.5,221.9 L381.7,221.0 L381.9,220.0 L382.0,219.0 L382.2,218.0 L382.4,217.0 L382.5,216.0 L382.7,215.0 L382.9,214.0 L383.0,213.0 L383.2,212.0 L383.3,211.0 L383.5,210.0 L383.6,209.0 L383.7,208.0 L383.9,206.9 L384.0,205.9 L384.2,204.9 L384.3,203.9 L384.4,202.9 L384.6,201.9 L384.7,200.9 L384.8,199.9 L385.0,198.8 L385.1,197.8 L385.2,196.8 L385.4,195.8 L385.5,194.8 L385.6,193.8 L385.7,192.8 L385.9,191.8 L386.0,190.8 L386.1,189.8 L386.2,188.8 L386.4,187.8 L386.5,186.8 L386.6,185.8 L386.8,184.8 L386.9,183.8 L387.0,182.8 L387.1,181.8 L387.3,180.8 L387.4,179.8 L387.5,178.8 L387.6,177.8 L387.7,176.8 L387.9,175.8 L388.0,174.8 L388.1,173.8 L388.3,172.8 L388.4,171.8 L388.5,170.8 L388.6,169.8 L388.8,168.8 L388.9,167.8 L389.0,166.8 L389.1,165.8 L389.3,164.8 L389.4,163.9 L389.5,162.9 L389.7,161.9 L389.8,160.9 L389.9,159.9 L390.1,158.9 L390.2,157.9 L390.4,156.9 L390.5,155.9 L390.6,155.0 L390.8,154.0 L390.9,153.0 L391.1,152.0 L391.2,151.0 L391.3,150.0 L391.5,149.1 L391.6,148.1 L391.8,147.1 L391.9,146.1 L392.1,145.1 L392.2,144.2 L392.4,143.2 L392.6,142.2 L392.7,141.2 L392.9,140.2 L393.0,139.3 L393.2,138.3 L393.4,137.3 L393.5,136.3 L393.7,135.4 L393.9,134.4 L394.1,133.4 L394.2,132.4 L394.4,131.4 L394.6,130.5 L394.8,129.5 L395.0,128.5 L395.2,127.6 L395.4,126.6 L395.5,125.6 L395.7,124.6 L395.9,123.7 L396.1,122.7 L396.3,121.7 L396.6,120.8 L396.8,119.8 L397.0,118.8 L397.2,117.8 L397.4,116.9 L397.6,115.9 L397.8,114.9 L398.1,114.0 L398.3,113.0 L398.5,112.0 L398.8,111.1 L399.0,110.1 L399.2,109.1 L399.5,108.2 L399.7,107.2 L400.0,106.2 L400.2,105.3 L400.5,104.3 L400.8,103.3 L401.0,102.4 L401.3,101.4 L401.6,100.4 L401.8,99.5 L402.1,98.5 L402.4,97.6 L402.7,96.6 L403.0,95.6 L403.3,94.7 L403.6,93.7 L403.9,92.7 L404.2,91.8 L404.5,90.8 L404.8,89.9 L405.1,88.9 L405.4,87.9 L405.8,87.0 L406.1,86.0 L406.4,85.1 L406.8,84.1 L407.1,83.1 L407.4,82.2 L407.8,81.2 L408.2,80.3 L408.5,79.3 L408.9,78.3 L409.2,77.4 L409.6,76.4 L410.0,75.5 L410.4,74.5 L410.8,73.6 L411.2,72.7 L411.6,71.8 L412.1,70.8 L412.5,69.9 L413.0,69.1 L413.4,68.2 L413.9,67.3 L414.4,66.5 L414.9,65.6 L415.5,64.8 L416.0,64.0 L416.6,63.2 L417.1,62.5 L417.7,61.7 L418.4,61.0 L419.0,60.3 L419.6,59.6 L420.3,59.0 L421.0,58.3 L421.7,57.7 L422.5,57.2 L423.3,56.6 L424.1,56.1 L424.9,55.6 L425.7,55.2 L426.6,54.7 L427.5,54.4 L428.4,54.0 L429.4,53.7 L430.4,53.4 L431.4,53.2 L432.5,53.0 L433.5,52.8 L434.6,52.7 L435.7,52.6 L436.8,52.6 L437.9,52.6 L439.0,52.7 L440.1,52.8 L441.1,52.9 L442.1,53.1 L443.2,53.4 L444.1,53.7 L445.1,54.1 L446.0,54.5 L446.8,55.0 L447.7,55.5 L448.5,56.1 L449.3,56.7 L450.0,57.3 L450.7,57.9 L451.5,58.6 L452.1,59.3 L452.8,60.0 L453.5,60.8 L454.2,61.5 L454.8,62.2 L455.4,63.0 L456.1,63.8 L456.7,64.5 L457.3,65.3 L457.9,66.1 L458.5,66.9 L459.0,67.7 L459.6,68.5 L460.2,69.3 L460.7,70.1 L461.3,71.0 L461.8,71.8 L462.3,72.6 L462.8,73.5 L463.3,74.4 L463.8,75.2 L464.3,76.1 L464.8,77.0 L465.3,77.8 L465.7,78.7 L466.2,79.6 L466.6,80.5 L467.1,81.4 L467.5,82.3 L467.9,83.2 L468.3,84.1 L468.8,85.1 L469.2,86.0 L469.6,86.9 L469.9,87.8 L470.3,88.8 L470.7,89.7 L471.1,90.6 L471.5,91.6 L471.8,92.5 L472.2,93.4 L472.5,94.4 L472.9,95.3 L473.2,96.3 L473.5,97.2 L473.9,98.2 L474.2,99.1 L474.5,100.1 L474.8,101.0 L475.1,102.0 L475.4,102.9 L475.7,103.9 L476.0,104.8 L476.3,105.8 L476.6,106.8 L476.9,107.7 L477.2,108.7 L477.4,109.6 L477.7,110.6 L478.0,111.6 L478.2,112.5 L478.5,113.5 L478.8,114.5 L479.0,115.4 L479.3,116.4 L479.5,117.4 L479.7,118.3 L480.0,119.3 L480.2,120.3 L480.4,121.2 L480.7,122.2 L480.9,123.2 L481.1,124.2 L481.3,125.1 L481.6,126.1 L481.8,127.1 L482.0,128.0 L482.2,129.0 L482.4,130.0 L482.6,131.0 L482.8,132.0 L483.0,132.9 L483.2,133.9 L483.4,134.9 L483.6,135.9 L483.8,136.8 L484.0,137.8 L484.1,138.8 L484.3,139.8 L484.5,140.8 L484.7,141.7 L484.9,142.7 L485.0,143.7 L485.2,144.7 L485.4,145.7 L485.6,146.7 L485.7,147.6 L485.9,148.6 L486.1,149.6 L486.3,150.6 L486.4,151.6 L486.6,152.6 L486.8,153.5 L486.9,154.5 L487.1,155.5 L487.3,156.5 L487.4,157.5 L487.6,158.5 L487.7,159.5 L487.9,160.4 L488.1,161.4 L488.2,162.4 L488.4,163.4 L488.5,164.4 L488.7,165.4 L488.8,166.4 L489.0,167.3 L489.1,168.3 L489.3,169.3 L489.4,170.3 L489.6,171.3 L489.7,172.3 L489.9,173.3 L490.0,174.3 L490.2,175.3 L490.3,176.2 L490.5,177.2 L490.6,178.2 L490.7,179.2 L490.9,180.2 L491.0,181.2 L491.2,182.2 L491.3,183.2 L491.4,184.2 L491.6,185.1 L491.7,186.1 L491.9,187.1 L492.0,188.1 L492.1,189.1 L492.3,190.1 L492.4,191.1 L492.5,192.1 L492.7,193.1 L492.8,194.1 L492.9,195.1 L493.0,196.0 L493.2,197.0 L493.3,198.0 L493.4,199.0 L493.5,200.0 L493.7,201.0 L493.8,202.0 L493.9,203.0 L494.0,204.0 L494.2,205.0 L494.3,206.0 L494.4,207.0 L494.5,208.0 L494.6,209.0 L494.8,209.9 L494.9,210.9 L495.0,211.9 L495.1,212.9 L495.2,213.9 L495.4,214.9 L495.5,215.9 L495.6,216.9 L495.7,217.9 L495.8,218.9 L495.9,219.9 L496.0,220.9 L496.2,221.9 L496.3,222.9 L496.4,223.9 L496.5,224.9 L496.6,225.8 L496.7,226.8 L496.8,227.8 L496.9,228.8 L497.0,229.8 L497.2,230.8 L497.3,231.8 L497.4,232.8 L497.5,233.8 L497.6,234.8 L497.7,235.8 L497.8,236.8 L497.9,237.8 L498.0,238.8 L498.1,239.8 L498.2,240.8 L498.3,241.8 L498.4,242.8 L498.5,243.8 L498.6,244.7 L498.7,245.7 L498.8,246.7 L498.9,247.7 L499.0,248.7 L499.1,249.7 L499.2,250.7 L499.3,251.7 L499.4,252.7 L499.5,253.7 L499.6,254.7 L499.7,255.7 L499.8,256.7 L499.9,257.7 L500.0,258.7 L500.1,259.7 L500.2,260.7 L500.3,261.7 L500.4,262.7 L500.5,263.7 L500.6,264.6 L500.7,265.6 L500.8,266.6 L500.9,267.6 L501.0,268.6 L501.1,269.6 L501.2,270.6 L501.3,271.6 L501.4,272.6 L501.5,273.6 L501.6,274.6 L501.7,275.6 L501.8,276.6 L501.9,277.6 L502.0,278.6 L502.1,279.6 L502.2,280.6 L502.3,281.6 L502.4,282.6 L502.5,283.5 L502.6,284.5 L502.7,285.5 L502.8,286.5 L502.9,287.5 L503.0,288.5 L503.1,289.5 L503.2,290.5 L503.3,291.5 L503.4,292.5 L503.4,293.5 L503.5,294.5 L503.6,295.5 L503.7,296.5 L503.8,297.5 L503.9,298.4 L504.0,299.4 L504.1,300.4 L504.2,301.4 L504.3,302.4 L504.4,303.4 L504.5,304.4 L504.6,305.4 L504.7,306.4" stroke="#b32728" stroke-width="2.4"/>
<path d="M386.0,10.0 V364.0" stroke="#4a4a42" stroke-width="1.3" stroke-dasharray="4.8 2.7" stroke-dashoffset="2.5"/>
</g>
<path d="M56.0,364.0 v5.6 M116.0,364.0 v5.6 M176.0,364.0 v5.6 M236.0,364.0 v5.6 M296.0,364.0 v5.6 M356.0,364.0 v5.6 M416.0,364.0 v5.6 M476.0,364.0 v5.6 M536.0,364.0 v5.6" stroke="#000" stroke-width="1.7" fill="none"/>
<path d="M56.0,363.9 h-5 M56.0,293.1 h-5 M56.0,222.3 h-5 M56.0,151.5 h-5 M56.0,80.7 h-5 M56.0,9.9 h-5" stroke="#000" stroke-width="1.3" fill="none"/>
<path d="M68.0,364.0 v3.0 M80.0,364.0 v3.0 M92.0,364.0 v3.0 M104.0,364.0 v3.0 M128.0,364.0 v3.0 M140.0,364.0 v3.0 M152.0,364.0 v3.0 M164.0,364.0 v3.0 M188.0,364.0 v3.0 M200.0,364.0 v3.0 M212.0,364.0 v3.0 M224.0,364.0 v3.0 M248.0,364.0 v3.0 M260.0,364.0 v3.0 M272.0,364.0 v3.0 M284.0,364.0 v3.0 M308.0,364.0 v3.0 M320.0,364.0 v3.0 M332.0,364.0 v3.0 M344.0,364.0 v3.0 M368.0,364.0 v3.0 M380.0,364.0 v3.0 M392.0,364.0 v3.0 M404.0,364.0 v3.0 M428.0,364.0 v3.0 M440.0,364.0 v3.0 M452.0,364.0 v3.0 M464.0,364.0 v3.0 M488.0,364.0 v3.0 M500.0,364.0 v3.0 M512.0,364.0 v3.0 M524.0,364.0 v3.0 M56.0,328.6 h-3.0 M56.0,257.8 h-3.0 M56.0,187.0 h-3.0 M56.0,116.2 h-3.0 M56.0,45.4 h-3.0" stroke="#000" stroke-width="0.95" fill="none"/>
<path d="M56.1,9.4 V364.5" stroke="#000" stroke-width="1.1"/>
<path d="M535.8,9.4 V364.5" stroke="#000" stroke-width="0.9"/>
<path d="M55.5,9.8 H536.2" stroke="#000" stroke-width="0.9"/>
<path d="M55.5,364.1 H536.2" stroke="#000" stroke-width="0.9"/>
<g font-family='"DejaVu Sans","Liberation Sans",sans-serif' font-size="11.3" fill="#111" stroke="#111" stroke-width="0.2">
<text x="56.0" y="383.0" text-anchor="middle">400</text>
<text x="116.0" y="383.0" text-anchor="middle">450</text>
<text x="176.0" y="383.0" text-anchor="middle">500</text>
<text x="236.0" y="383.0" text-anchor="middle">550</text>
<text x="296.0" y="383.0" text-anchor="middle">600</text>
<text x="356.0" y="383.0" text-anchor="middle">650</text>
<text x="416.0" y="383.0" text-anchor="middle">700</text>
<text x="476.0" y="383.0" text-anchor="middle">750</text>
<text x="536.0" y="383.0" text-anchor="middle">800</text>
<text x="45.7" y="368.1" text-anchor="end">0</text>
<text x="45.7" y="297.3" text-anchor="end">20</text>
<text x="45.7" y="226.5" text-anchor="end">40</text>
<text x="45.7" y="155.7" text-anchor="end">60</text>
<text x="45.7" y="84.9" text-anchor="end">80</text>
<text x="45.7" y="14.1" text-anchor="end">100</text>
</g>
<text x="296" y="400.9" text-anchor="middle" font-family='"DejaVu Sans","Liberation Sans",sans-serif' font-size="13.1" fill="#111" stroke="#111" stroke-width="0.2">Wavelength [nm]</text>
<text transform="translate(14.8,187.2) rotate(-90)" text-anchor="middle" font-family='"DejaVu Sans","Liberation Sans",sans-serif' font-size="13.1" fill="#111" stroke="#111" stroke-width="0.2">Normalized reflectance [%]</text>
<rect x="61.65" y="15.8" width="89.95" height="66.95" rx="2.4" fill="#fff" fill-opacity="0.8" stroke="#ccc" stroke-width="1"/>
<path d="M65.3,25.2 H90.8" stroke="#ee9a48" stroke-width="2.4"/>
<path d="M65.3,42 H90.8" stroke="#4685b2" stroke-width="2.4"/>
<path d="M65.3,66.6 H90.8" stroke="#b32728" stroke-width="2.4"/>
<g font-family='"DejaVu Sans","Liberation Sans",sans-serif' font-size="11.5" fill="#111" stroke="#111" stroke-width="0.2">
<text x="98.8" y="29.3">PSi+PYP</text>
<text x="98.8" y="46.2">PSi</text>
<text x="98.8" y="62.8">Fitted</text>
<text x="98.8" y="75.6">Curves</text>
</g>
</svg>
</body></html>
